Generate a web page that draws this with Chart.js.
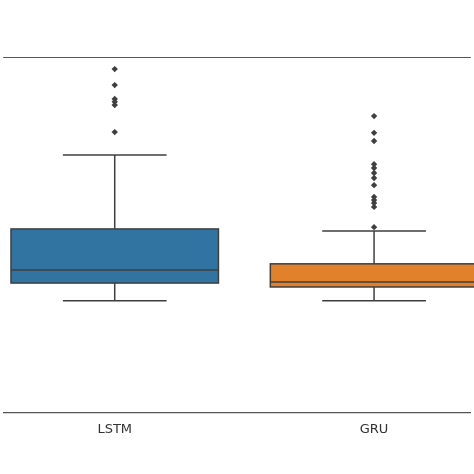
<!DOCTYPE html>
<html><head><meta charset="utf-8">
<script src="https://cdn.jsdelivr.net/npm/chart.js@4"></script>
<style>html,body{margin:0;padding:0;background:#fff}#w{width:474px;height:474px}</style>
</head><body><div id="w"><canvas id="c"></canvas></div>
<script>
const categories = ["LSTM", "GRU"];
const boxColors = ["#3274a1", "#e1812c"];
const whiskerLow = [31.5, 31.5];
const q1 = [36.5, 35.4];
const median = [40.2, 36.8];
const q3 = [51.7, 41.9];
const whiskerHigh = [72.5, 51.1];
const outliersLSTM = [96.6, 92.1, 88.2, 87.4, 86.5, 78.9];
const outliersGRU = [83.4, 78.7, 76.4, 69.9, 68.8, 67.4, 66.0, 64.0, 60.7, 59.8, 59.0, 57.9, 52.2];
const outlierSets = [outliersLSTM, outliersGRU];

const LINE = "#3f3f3f";
const boxPlugin = {
  id: "boxes",
  beforeDatasetsDraw(chart) {
    const {ctx, scales: {x, y}, chartArea: a} = chart;
    ctx.save();
    ctx.strokeStyle = "#555"; ctx.lineWidth = 1.2;
    ctx.beginPath(); ctx.moveTo(a.left, a.top + 0.5); ctx.lineTo(a.right, a.top + 0.5); ctx.stroke();
    ctx.strokeStyle = LINE; ctx.lineWidth = 1.5;
    categories.forEach((c, i) => {
      const cx = x.getPixelForValue(i);
      const hw = (x.getPixelForValue(i + 0.4) - cx);
      const cw = hw / 2;
      const pLo = y.getPixelForValue(whiskerLow[i]), pQ1 = y.getPixelForValue(q1[i]);
      const pM = y.getPixelForValue(median[i]), pQ3 = y.getPixelForValue(q3[i]);
      const pHi = y.getPixelForValue(whiskerHigh[i]);
      ctx.fillStyle = boxColors[i];
      ctx.fillRect(cx - hw, pQ3, 2 * hw, pQ1 - pQ3);
      ctx.strokeRect(cx - hw, pQ3, 2 * hw, pQ1 - pQ3);
      ctx.beginPath();
      ctx.moveTo(cx - hw, pM); ctx.lineTo(cx + hw, pM);
      ctx.moveTo(cx, pQ1); ctx.lineTo(cx, pLo);
      ctx.moveTo(cx, pQ3); ctx.lineTo(cx, pHi);
      ctx.moveTo(cx - cw, pLo); ctx.lineTo(cx + cw, pLo);
      ctx.moveTo(cx - cw, pHi); ctx.lineTo(cx + cw, pHi);
      ctx.stroke();
    });
    ctx.restore();
  }
};

new Chart(document.getElementById("c"), {
  type: "scatter",
  data: {
    datasets: outlierSets.map((arr, i) => ({
      data: arr.map(v => ({x: i, y: v})),
      pointStyle: "rectRot", radius: 3.2, hoverRadius: 3.2,
      backgroundColor: LINE, borderColor: LINE, borderWidth: 0
    }))
  },
  options: {
    responsive: true, maintainAspectRatio: false, animation: false,
    layout: {padding: {top: 57, left: 0, right: 0, bottom: 0}},
    plugins: {legend: {display: false}, tooltip: {enabled: false}},
    scales: {
      x: {
        type: "linear", min: -0.43, max: 1.373,
        afterBuildTicks(s) { s.ticks = categories.map((c, i) => ({value: i})); },
        afterFit(s) { s.height = 61; },
        ticks: {callback: v => categories[v], color: "#333", font: {family: "DejaVu Sans", size: 13}, padding: 4},
        grid: {display: false, drawTicks: true, tickLength: 5, tickColor: "#555"},
        border: {display: true, color: "#555", width: 1.2}
      },
      y: {display: false, min: 0, max: 100}
    }
  },
  plugins: [boxPlugin]
});
</script></body></html>
